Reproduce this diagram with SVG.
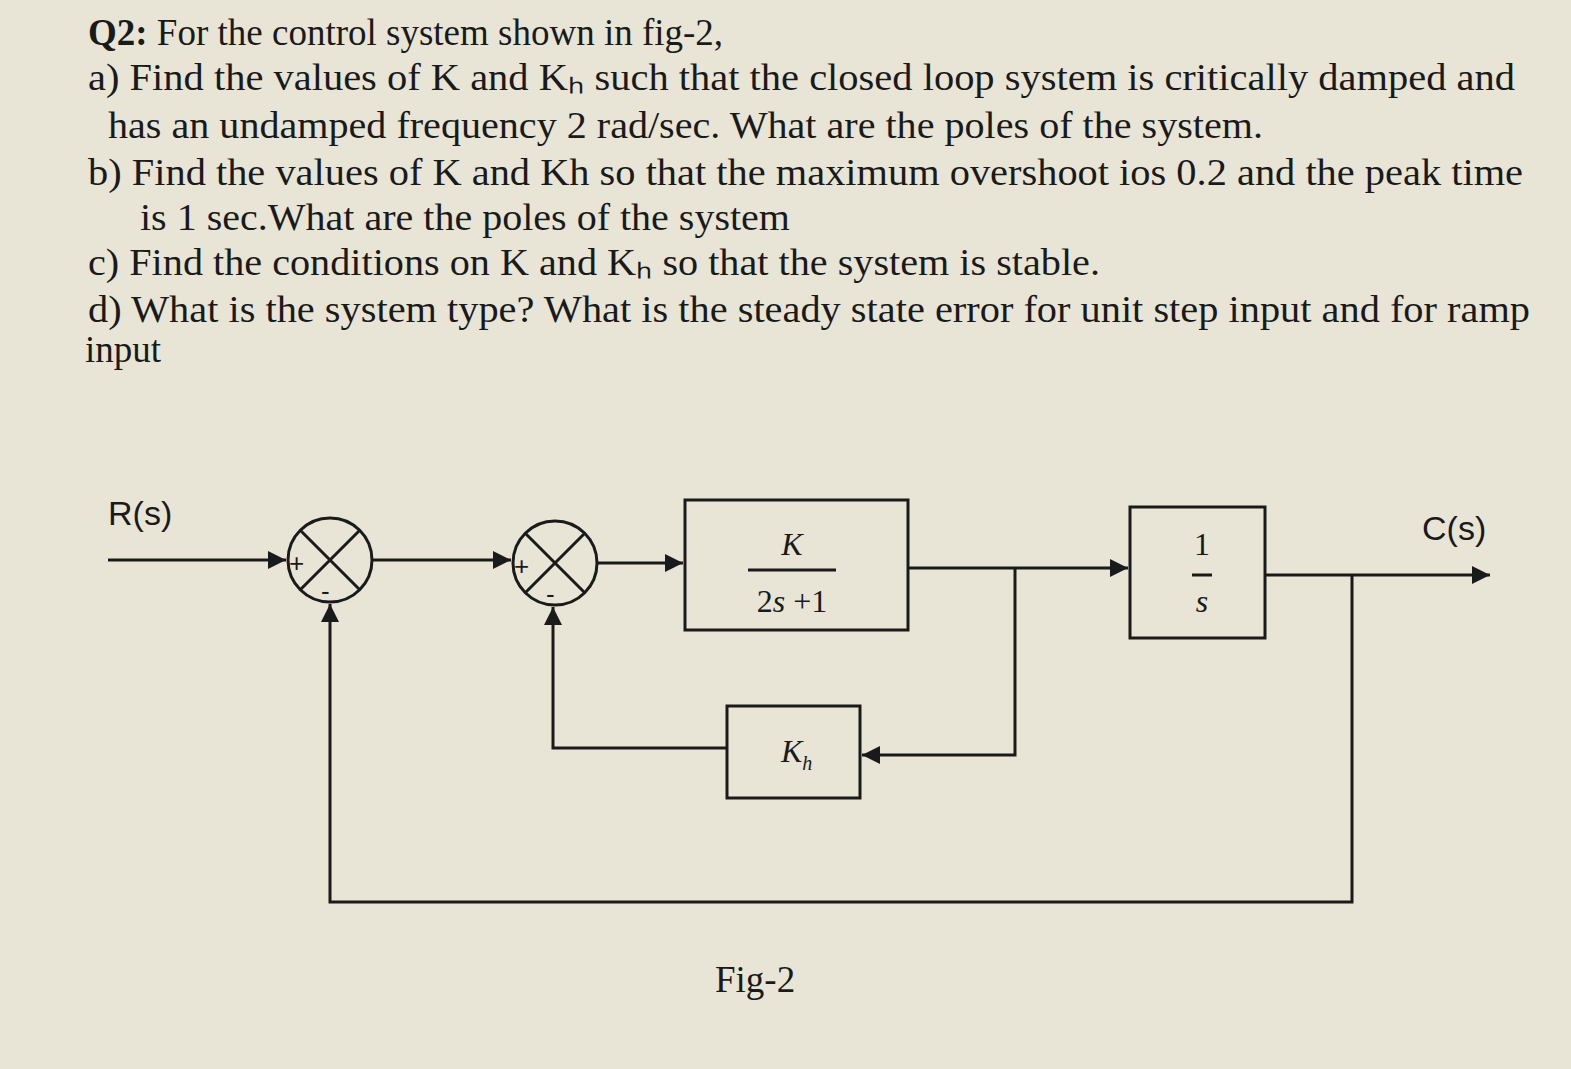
<svg xmlns="http://www.w3.org/2000/svg" width="1571" height="1069" viewBox="0 0 1571 1069">
<style>
.t{font-family:"Liberation Serif",serif;font-size:37px;fill:#1a1a1a}
.a{font-family:"Liberation Sans",sans-serif;font-size:34px;fill:#1a1a1a}
.m{font-family:"Liberation Serif",serif;font-size:32px;fill:#1a1a1a}
.l{stroke:#1a1a1a;stroke-width:3;fill:none}
.b{stroke:#1a1a1a;stroke-width:3;fill:none}
.s{font-family:"Liberation Sans",sans-serif;font-size:26px;fill:#1a1a1a}
</style>
<defs><marker id="ar" viewBox="0 0 10 10" refX="10" refY="5" markerWidth="9" markerHeight="6" orient="auto" markerUnits="strokeWidth"><path d="M0,0L10,5L0,10z" fill="#1a1a1a"/></marker></defs>
<rect width="1571" height="1069" fill="#e8e5d6"/>
<g id="text">
<text class="t" x="88" y="45"><tspan font-weight="bold">Q2:</tspan> For the control system shown in fig-2,</text>
<text class="t" x="88" y="90" textLength="1427" lengthAdjust="spacingAndGlyphs">a) Find the values of K and Kₕ such that the closed loop system is critically damped and</text>
<text class="t" x="108" y="138" textLength="1155" lengthAdjust="spacingAndGlyphs">has an undamped frequency 2 rad/sec. What are the poles of the system.</text>
<text class="t" x="88" y="185" textLength="1435" lengthAdjust="spacingAndGlyphs">b) Find the values of K and Kh so that the maximum overshoot ios 0.2 and the peak time</text>
<text class="t" x="140" y="230" textLength="650" lengthAdjust="spacingAndGlyphs">is 1 sec.What are the poles of the system</text>
<text class="t" x="88" y="275" textLength="1012" lengthAdjust="spacingAndGlyphs">c) Find the conditions on K and Kₕ so that the system is stable.</text>
<text class="t" x="88" y="322" textLength="1442" lengthAdjust="spacingAndGlyphs">d) What is the system type? What is the steady state error for unit step input and for ramp</text>
<text class="t" x="85" y="362">input</text>
<text class="t" x="715" y="992" font-size="32">Fig-2</text>
<text class="a" x="108" y="525">R(s)</text>
<text class="a" x="1422" y="540">C(s)</text>
</g>
<g id="sum1"><circle class="b" cx="330" cy="560" r="42"/><path class="l" d="M300,530L360,590M360,530L300,590"/><text class="s" x="289" y="572">+</text><text class="s" x="321" y="600">-</text></g>
<g id="sum2"><circle class="b" cx="555" cy="563" r="42"/><path class="l" d="M525,533L585,593M585,533L525,593"/><text class="s" x="514" y="575">+</text><text class="s" x="546" y="603">-</text></g>
<g id="G1"><rect class="b" x="685" y="500" width="223" height="130"/><text class="m" x="792" y="555" text-anchor="middle" font-style="italic">K</text><line class="l" x1="748" y1="570" x2="836" y2="570" stroke-width="1.5"/><text class="m" x="792" y="612" text-anchor="middle"><tspan>2</tspan><tspan font-style="italic">s</tspan> +1</text></g>
<g id="G2"><rect class="b" x="1130" y="507" width="135" height="131"/><text class="m" x="1202" y="555" text-anchor="middle" font-size="28">1</text><line class="l" x1="1192" y1="575" x2="1212" y2="575" stroke-width="1.5"/><text class="m" x="1202" y="612" text-anchor="middle" font-style="italic" font-size="28">s</text></g>
<g id="H"><rect class="b" x="727" y="706" width="133" height="92"/><text class="m" x="781" y="762" font-style="italic">K<tspan font-size="20" dy="8">h</tspan></text></g>
<g id="connectors">
<path class="l" d="M108,560H286" marker-end="url(#ar)"/>
<path class="l" d="M372,560H511" marker-end="url(#ar)"/>
<path class="l" d="M597,563H683" marker-end="url(#ar)"/>
<path class="l" d="M908,568H1128" marker-end="url(#ar)"/>
<path class="l" d="M1265,575H1490" marker-end="url(#ar)"/>
<path class="l" d="M1015,568V755H862" marker-end="url(#ar)"/>
<path class="l" d="M727,748H553V607" marker-end="url(#ar)"/>
<path class="l" d="M1352,575V902H330V604" marker-end="url(#ar)"/>
</g>
</svg>
